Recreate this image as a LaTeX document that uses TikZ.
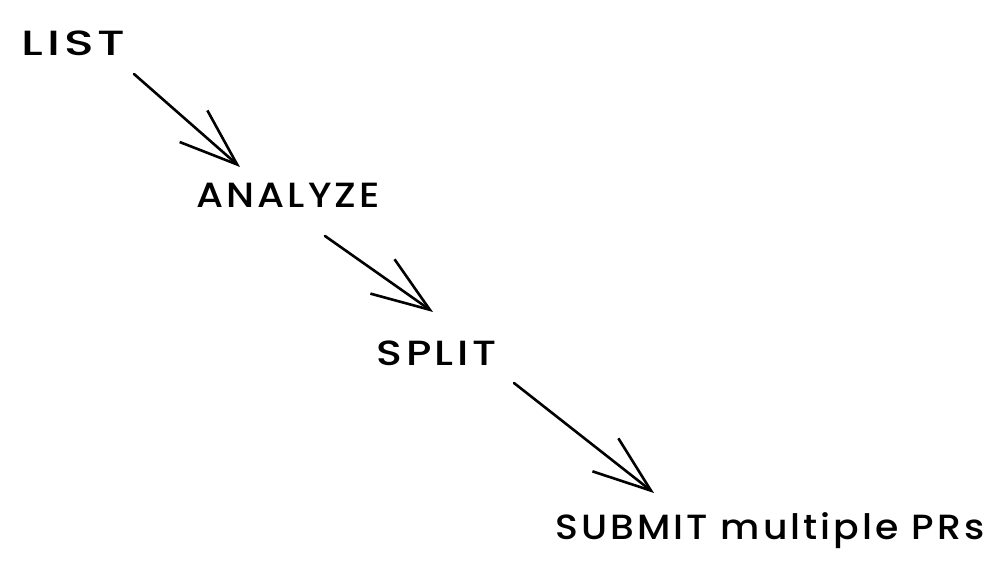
\documentclass[tikz,border=0pt]{standalone}
\usepackage{fontspec}
\setmainfont{Poppins}[UprightFont={* Medium},LetterSpace=8]
\usetikzlibrary{arrows.meta}
\begin{document}
\begin{tikzpicture}[x=1pt,y=-1pt,
  lbl/.style={inner sep=0pt, font=\fontsize{35}{40}\selectfont, text=black},
  flow/.style={line width=2.6pt, line cap=round, black,
    -{Straight Barb[length=58pt,width=42pt,line width=2.6pt]}}]
\useasboundingbox[fill=white] (0,0) rectangle (1001,575);
\node[lbl] (list) at (73.5,43) {\scalebox{1.4}[1]{LIST}};
\node[lbl] (analyze) at (288,195) {\scalebox{1.11}[1]{ANALYZE}};
\node[lbl] (split) at (436.5,353) {\scalebox{1.22}[1]{SPLIT}};
\node[lbl] (submit) at (770,531) {\scalebox{1.08}[1]{SUBMIT multiple PRs}};
\coordinate (a1s) at (134,74);
\coordinate (a1e) at (240,167);
\coordinate (a2s) at (325,236);
\coordinate (a2e) at (433,312);
\coordinate (a3s) at (514,383);
\coordinate (a3e) at (654,493);
\draw[flow] (a1s) -- (a1e);
\draw[flow] (a2s) -- (a2e);
\draw[flow] (a3s) -- (a3e);
\end{tikzpicture}
\end{document}
